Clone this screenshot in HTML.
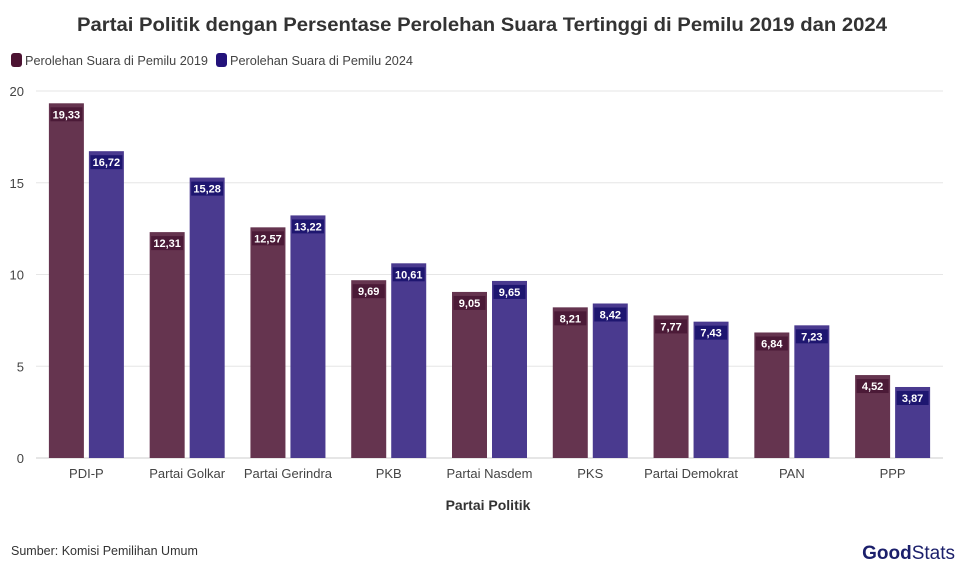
<!DOCTYPE html>
<html><head><meta charset="utf-8"><style>
body{margin:0;background:#fff;font-family:"Liberation Sans",sans-serif}
</style></head><body>
<svg id="c" width="965" height="575" xmlns="http://www.w3.org/2000/svg">
<text x="482" y="31" text-anchor="middle" font-size="19" font-weight="bold" fill="#333" textLength="810" lengthAdjust="spacingAndGlyphs">Partai Politik dengan Persentase Perolehan Suara Tertinggi di Pemilu 2019 dan 2024</text>
<g>
<rect x="11" y="53" width="11" height="14" rx="3" fill="#4c1332"/>
<text x="25" y="65" font-size="12.5" fill="#444" textLength="183" lengthAdjust="spacingAndGlyphs">Perolehan Suara di Pemilu 2019</text>
<rect x="216" y="53" width="11" height="14" rx="3" fill="#23127a"/>
<text x="230" y="65" font-size="12.5" fill="#444" textLength="183" lengthAdjust="spacingAndGlyphs">Perolehan Suara di Pemilu 2024</text>
</g>
<g id="plot"></g>
<text x="488" y="510" text-anchor="middle" font-size="14" font-weight="bold" fill="#333">Partai Politik</text>
<text x="11" y="555" font-size="12.5" fill="#333">Sumber: Komisi Pemilihan Umum</text>
<text x="955" y="559" text-anchor="end" font-size="19" fill="#1b1f6b"><tspan font-weight="bold">Good</tspan>Stats</text>
</svg>
<script>
const categories=["PDI-P","Partai Golkar","Partai Gerindra","PKB","Partai Nasdem","PKS","Partai Demokrat","PAN","PPP"];
const values2019=[19.33,12.31,12.57,9.69,9.05,8.21,7.77,6.84,4.52];
const values2024=[16.72,15.28,13.22,10.61,9.65,8.42,7.43,7.23,3.87];
const yTicks=[0,5,10,15,20];
const NS="http://www.w3.org/2000/svg";
const g=document.getElementById('plot');
const X0=36,X1=943,Y0=458,Y1=91,YMAX=20;
const band=(X1-X0)/categories.length;
const y=v=>Y0-(Y0-Y1)*v/YMAX;
const xc=i=>X0+band*(i+0.5);
function mk(t,a){const e=document.createElementNS(NS,t);for(const k in a)e.setAttribute(k,a[k]);g.appendChild(e);return e;}
yTicks.forEach(t=>{
 const l=mk('line',{x1:X0,x2:X1,y1:y(t),y2:y(t),stroke:t===0?'#ccc':'#e6e6e6'});
 
 
 const tx=mk('text',{x:24,y:y(t)+5,'text-anchor':'end','font-size':13,fill:'#444'});
 tx.textContent=t;
 
 
});
const fmt=v=>v.toFixed(2).replace('.',',');
categories.forEach((c,i)=>{
 [[values2019,'#65344f','#4b1a37',-1,'2019'],[values2024,'#4a3a8f','#1e1670',1,'2024']].forEach(([arr,col,lc,s,yr])=>{
  const v=arr[i],w=35,cx=xc(i)+s*20,x=cx-w/2;
  const r=mk('rect',{x:x,y:y(v),width:w,height:Y0-y(v),fill:col});
  
  
  const lb=mk('rect',{x:cx-16,y:y(v)+4,width:32,height:14,fill:lc});
  
  
  const t=mk('text',{x:cx,y:y(v)+15,'text-anchor':'middle','font-size':11,'font-weight':'bold',fill:'#fff'});
  t.textContent=fmt(v);
  
  
 });
 const t=mk('text',{x:xc(i),y:478,'text-anchor':'middle','font-size':13,fill:'#444'});
 t.textContent=c;
 
 
});
</script>
</body></html>
